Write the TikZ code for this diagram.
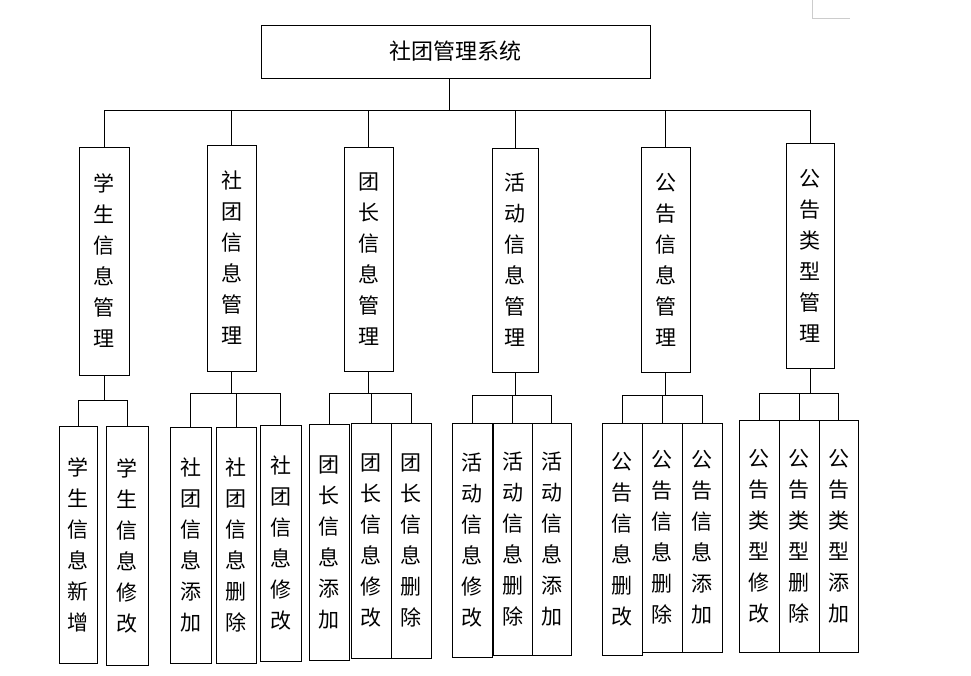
\documentclass[tikz,border=0pt]{standalone}
\usepackage{fontspec}
\setmainfont{Noto Sans CJK SC}
\begin{document}
\begin{tikzpicture}[x=1pt,y=-1pt,
  box/.style={draw,thick,inner sep=0pt,align=center,font=\fontsize{21}{31}\selectfont},
  ln/.style={thick}]
\useasboundingbox (0,0) rectangle (971,676);
\draw[gray!40] (812,0) -- (812,18) -- (850,18);
\newcommand\bx[6]{\node[box,minimum width={(#4-#2)*1pt},minimum height={(#5-#3)*1pt}] (#1) at ({(#2+#4)/2},{(#3+#5)/2}) {#6};}
\bx{r}{261}{25}{650}{78}{\fontsize{22}{26}\selectfont 社团管理系统}
\bx{p1}{79}{147}{129}{375}{学\\生\\信\\息\\管\\理}
\bx{p2}{207}{145}{256}{371}{社\\团\\信\\息\\管\\理}
\bx{p3}{344}{147}{393}{371}{团\\长\\信\\息\\管\\理}
\bx{p4}{492}{148}{538}{372}{活\\动\\信\\息\\管\\理}
\bx{p5}{641}{147}{690}{372}{公\\告\\信\\息\\管\\理}
\bx{p6}{786}{143}{834}{368}{公\\告\\类\\型\\管\\理}
\bx{a1}{59}{426}{97}{663}{学\\生\\信\\息\\新\\增}
\bx{a2}{106}{426}{148}{665}{学\\生\\信\\息\\修\\改}
\bx{b1}{170}{427}{211}{663}{社\\团\\信\\息\\添\\加}
\bx{b2}{216}{427}{256}{663}{社\\团\\信\\息\\删\\除}
\bx{b3}{260}{425}{301}{661}{社\\团\\信\\息\\修\\改}
\bx{c1}{309}{424}{349}{660}{团\\长\\信\\息\\添\\加}
\bx{c2}{351}{423}{391}{658}{团\\长\\信\\息\\修\\改}
\bx{c3}{391}{423}{431}{658}{团\\长\\信\\息\\删\\除}
\bx{d1}{452}{423}{492}{657}{活\\动\\信\\息\\修\\改}
\bx{d2}{493}{423}{532}{655}{活\\动\\信\\息\\删\\除}
\bx{d3}{532}{423}{571}{655}{活\\动\\信\\息\\添\\加}
\bx{e1}{602}{423}{642}{655}{公\\告\\信\\息\\删\\改}
\bx{e2}{642}{423}{682}{652}{公\\告\\信\\息\\删\\除}
\bx{e3}{682}{423}{722}{652}{公\\告\\信\\息\\添\\加}
\bx{f1}{739}{420}{779}{652}{公\\告\\类\\型\\修\\改}
\bx{f2}{779}{420}{819}{652}{公\\告\\类\\型\\删\\除}
\bx{f3}{819}{420}{858}{652}{公\\告\\类\\型\\添\\加}
\coordinate (j0) at (449,110);
\draw[ln] (j0|-r.south) -- (j0);
\draw[ln] (p1.north|-j0) -- (p6.north|-j0);
\foreach \p in {p1,p2,p3,p4,p5,p6} \draw[ln] (\p.north) -- (\p.north|-j0);
\coordinate (j1) at (105,400);
\coordinate (j2) at (234,393);
\coordinate (j3) at (370,393);
\coordinate (j4) at (516,395);
\coordinate (j5) at (665,395);
\coordinate (j6) at (815,393);
\foreach \p/\j/\x/\y/\z in {p1/j1/a1/a2/a2, p2/j2/b1/b2/b3, p3/j3/c1/c2/c3, p4/j4/d1/d2/d3, p5/j5/e1/e2/e3, p6/j6/f1/f2/f3}{
  \draw[ln] (\p.south) -- (\p.south|-\j);
  \draw[ln] (\x.north|-\j) -- (\z.north|-\j);
  \foreach \q in {\x,\y,\z} \draw[ln] (\q.north) -- (\q.north|-\j);
}
\end{tikzpicture}
\end{document}
